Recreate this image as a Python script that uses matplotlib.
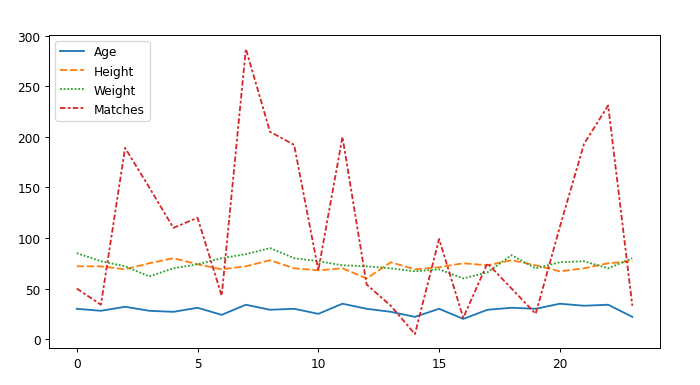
import matplotlib
matplotlib.use("Agg")
import matplotlib.pyplot as plt
import pandas as pd
import seaborn as sns

age = [30, 28, 32, 28, 27, 31, 24, 34, 29, 30, 25, 35,
       30, 27, 22, 30, 20, 29, 31, 30, 35, 33, 34, 22]
height = [72, 72, 69, 75, 80, 74, 69, 72, 78, 70, 68, 70,
          60, 76, 69, 71, 75, 73, 78, 73, 67, 70, 75, 77]
weight = [85, 77, 72, 62, 70, 74, 80, 84, 90, 80, 77, 73,
          72, 70, 67, 69, 60, 66, 83, 70, 76, 77, 70, 80]
matches = [50, 34, 189, 150, 110, 120, 43, 287, 205, 192, 68, 200,
           54, 33, 5, 99, 21, 75, 50, 25, 111, 193, 231, 33]

df = pd.DataFrame({"Age": age, "Height": height, "Weight": weight, "Matches": matches})

fig = plt.figure(figsize=(8, 4.411), dpi=87.5)
ax = fig.add_axes([0.07, 0.095, 0.873, 0.813])
sns.lineplot(data=df, ax=ax)
ax.legend(loc="upper left")

fig.savefig("out.png", dpi=87.5)
